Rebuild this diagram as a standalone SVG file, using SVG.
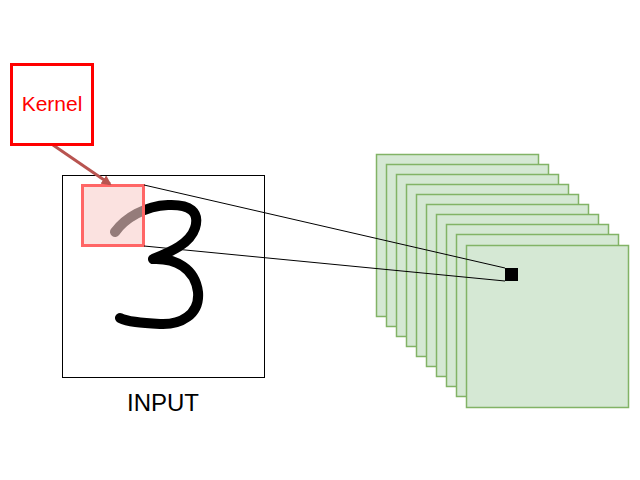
<svg xmlns="http://www.w3.org/2000/svg" width="640" height="480" viewBox="0 0 640 480">
<style>
.fm{fill:#d5e8d4;stroke:#82b366;stroke-width:1.5}
text{font-family:"Liberation Sans",Arial,sans-serif}
</style>
<defs>
<marker id="ah" markerWidth="10" markerHeight="10" refX="8" refY="5" orient="auto" markerUnits="userSpaceOnUse"><path d="M0,0 L10,5 L0,10 Z" fill="#b85450"/></marker>
</defs>
<rect width="640" height="480" fill="#fff"/>
<g id="feature-maps">
<rect class="fm" x="376.5" y="154.5" width="162" height="162"/>
<rect class="fm" x="386.5" y="164.5" width="162" height="162"/>
<rect class="fm" x="396.5" y="174.5" width="162" height="162"/>
<rect class="fm" x="406.5" y="184.5" width="162" height="162"/>
<rect class="fm" x="416.5" y="194.5" width="162" height="162"/>
<rect class="fm" x="426.5" y="204.5" width="162" height="162"/>
<rect class="fm" x="436.5" y="214.5" width="162" height="162"/>
<rect class="fm" x="446.5" y="224.5" width="162" height="162"/>
<rect class="fm" x="456.5" y="234.5" width="162" height="162"/>
<rect class="fm" x="466.5" y="245.5" width="162" height="162"/>
</g>
<g id="input">
<rect x="62.5" y="175.5" width="202" height="202" fill="#fff" stroke="#000"/>
<path d="M115,232 C125,218 145,206 168,205 C190,204 200,212 195,228 C190,244 170,252 153,259 C175,258 195,268 198,292 C200,315 180,325 160,324 C140,323 128,322 120,318" fill="none" stroke="#000" stroke-width="10" stroke-linecap="round" stroke-linejoin="round"/>
<text x="163" y="411" font-size="24" text-anchor="middle">INPUT</text>
</g>
<g id="kernel-window">
<rect x="82.5" y="185.5" width="61" height="60" fill="#f8cecc" fill-opacity="0.6" stroke="#ff6666" stroke-width="3"/>
</g>
<g id="output-pixel">
<rect x="505" y="268" width="13" height="13" fill="#000"/>
</g>
<g id="connectors">
<line x1="144" y1="185" x2="505" y2="268" stroke="#000"/>
<line x1="144" y1="246" x2="505" y2="281" stroke="#000"/>
<line x1="53" y1="145" x2="110" y2="184" stroke="#b85450" stroke-width="3" marker-end="url(#ah)"/>
</g>
<g id="kernel-label">
<rect x="11.5" y="64.5" width="81" height="80" fill="#fff" stroke="#ff0000" stroke-width="3"/>
<text x="52" y="111" font-size="21" fill="#ff0000" text-anchor="middle">Kernel</text>
</g>
</svg>
